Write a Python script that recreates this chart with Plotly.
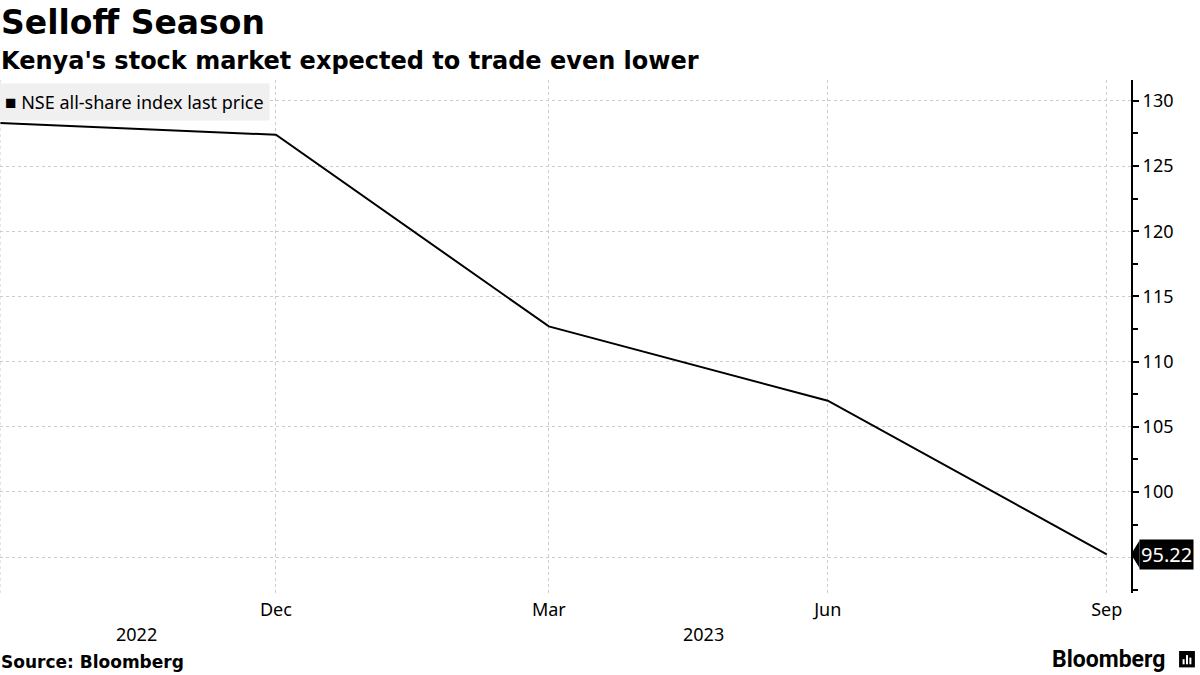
import plotly.graph_objects as go

dates = ["2022-09-01", "2022-12-01", "2023-03-01", "2023-06-01", "2023-09-01"]
values = [128.3, 127.4, 112.7, 107.0, 95.22]
tick_dates = ["2022-12-01", "2023-03-01", "2023-06-01", "2023-09-01"]
tick_labels = ["Dec", "Mar", "Jun", "Sep"]
y_ticks = [95, 100, 105, 110, 115, 120, 125, 130]
y_tick_labels = ["", "100", "105", "110", "115", "120", "125", "130"]
years = ["2022", "2023"]
year_pos = ["2022-10-16", "2023-04-21"]
series_name = "NSE all-share index last price"

TF = "Noto Sans"
fig = go.Figure()
fig.add_trace(go.Scatter(x=dates, y=values, mode="lines",
                         line=dict(color="black", width=2), name=series_name,
                         showlegend=False, hoverinfo="skip"))

fig.update_layout(
    width=1200, height=675,
    margin=dict(l=0, r=69, t=80, b=82),
    paper_bgcolor="white", plot_bgcolor="white",
    font=dict(family=TF, color="black"),
    xaxis=dict(range=["2022-09-01", "2023-09-09"], tickvals=tick_dates, ticktext=tick_labels,
               showgrid=True, gridcolor="#cccccc", griddash="dot", gridwidth=1,
               zeroline=False, showline=False, ticks="", tickfont=dict(size=18, family=TF),
               ticklabelstandoff=4),
    yaxis=dict(side="right", range=[92.25, 131.6], tickvals=y_ticks, ticktext=y_tick_labels,
               showgrid=True, gridcolor="#cccccc", griddash="dot", gridwidth=1,
               zeroline=False, showline=True, linecolor="black", linewidth=2,
               ticks="outside", ticklen=6, tickcolor="black", tickwidth=1.5,
               tickfont=dict(size=18, family=TF),
               minor=dict(dtick=2.5, tick0=0, ticks="outside", ticklen=5, tickcolor="black", showgrid=False)),
)

# left edge dotted grid line
fig.add_shape(type="line", xref="x", yref="paper", x0=dates[0], x1=dates[0], y0=0, y1=1,
              line=dict(color="#cccccc", width=1, dash="dot"))

fig.add_annotation(text="<b>Selloff Season</b>", xref="paper", yref="paper", x=0, xanchor="left",
                   y=1, yanchor="bottom", yshift=36, showarrow=False,
                   font=dict(family="DejaVu Sans", size=33, color="black"), xshift=-1)
fig.add_annotation(text="<b>Kenya's stock market expected to trade even lower</b>", xref="paper", yref="paper",
                   x=0, xanchor="left", y=1, yanchor="bottom", yshift=3, showarrow=False,
                   font=dict(family="DejaVu Sans", size=24, color="black"), xshift=-1)

# legend box
fig.add_annotation(text="<span style='font-size:19px'>■</span> " + series_name, xref="paper", yref="paper",
                   x=0, xanchor="left", y=1, yanchor="top", yshift=-3, showarrow=False, bgcolor="#f0f0f0",
                   borderpad=5, font=dict(family=TF, size=18, color="black"), align="left", xshift=-1)

# years
for yr, pos in zip(years, year_pos):
    fig.add_annotation(text=yr, x=pos, xref="x", yref="paper", y=0, yanchor="top", yshift=-27,
                       showarrow=False, font=dict(family=TF, size=18, color="black"))

# last value label
fig.add_annotation(text=f"{values[-1]:.2f}", xref="paper", x=1, xanchor="left", xshift=8,
                   y=values[-1], yref="y", showarrow=False, bgcolor="black",
                   font=dict(family=TF, size=20, color="white"), borderpad=1)
fig.add_shape(type="path", xref="paper", yref="y",
              path=f"M 1.0 {values[-1]} L 1.0075 {values[-1]+1.05} L 1.0075 {values[-1]-1.05} Z",
              fillcolor="black", line=dict(width=0))

fig.add_annotation(text="<b>Source: Bloomberg</b>", xref="paper", yref="paper", x=0, xanchor="left",
                   xshift=-1, y=0, yanchor="top", yshift=-57, showarrow=False,
                   font=dict(family="DejaVu Sans", size=17, color="black"))
fig.add_annotation(text="<b>Bloomberg</b>", xref="paper", yref="paper", x=1, xanchor="right",
                   xshift=36, y=0, yanchor="top", yshift=-51, showarrow=False,
                   font=dict(family="Roboto", size=23, color="black"))
# logo icon
fig.add_shape(type="rect", xref="paper", yref="paper", x0=1.0425, x1=1.0565, y0=-0.145, y1=-0.113,
              fillcolor="black", line=dict(width=0))
for dx, h in [(0.0465, 0.010), (0.0495, 0.018), (0.0525, 0.013)]:
    fig.add_shape(type="line", xref="paper", yref="paper", x0=1 + dx, x1=1 + dx,
                  y0=-0.139, y1=-0.139 + h, line=dict(color="white", width=2))

fig.write_html("out.html", config={"displayModeBar": False},
               post_script="document.body.style.margin='0';")
